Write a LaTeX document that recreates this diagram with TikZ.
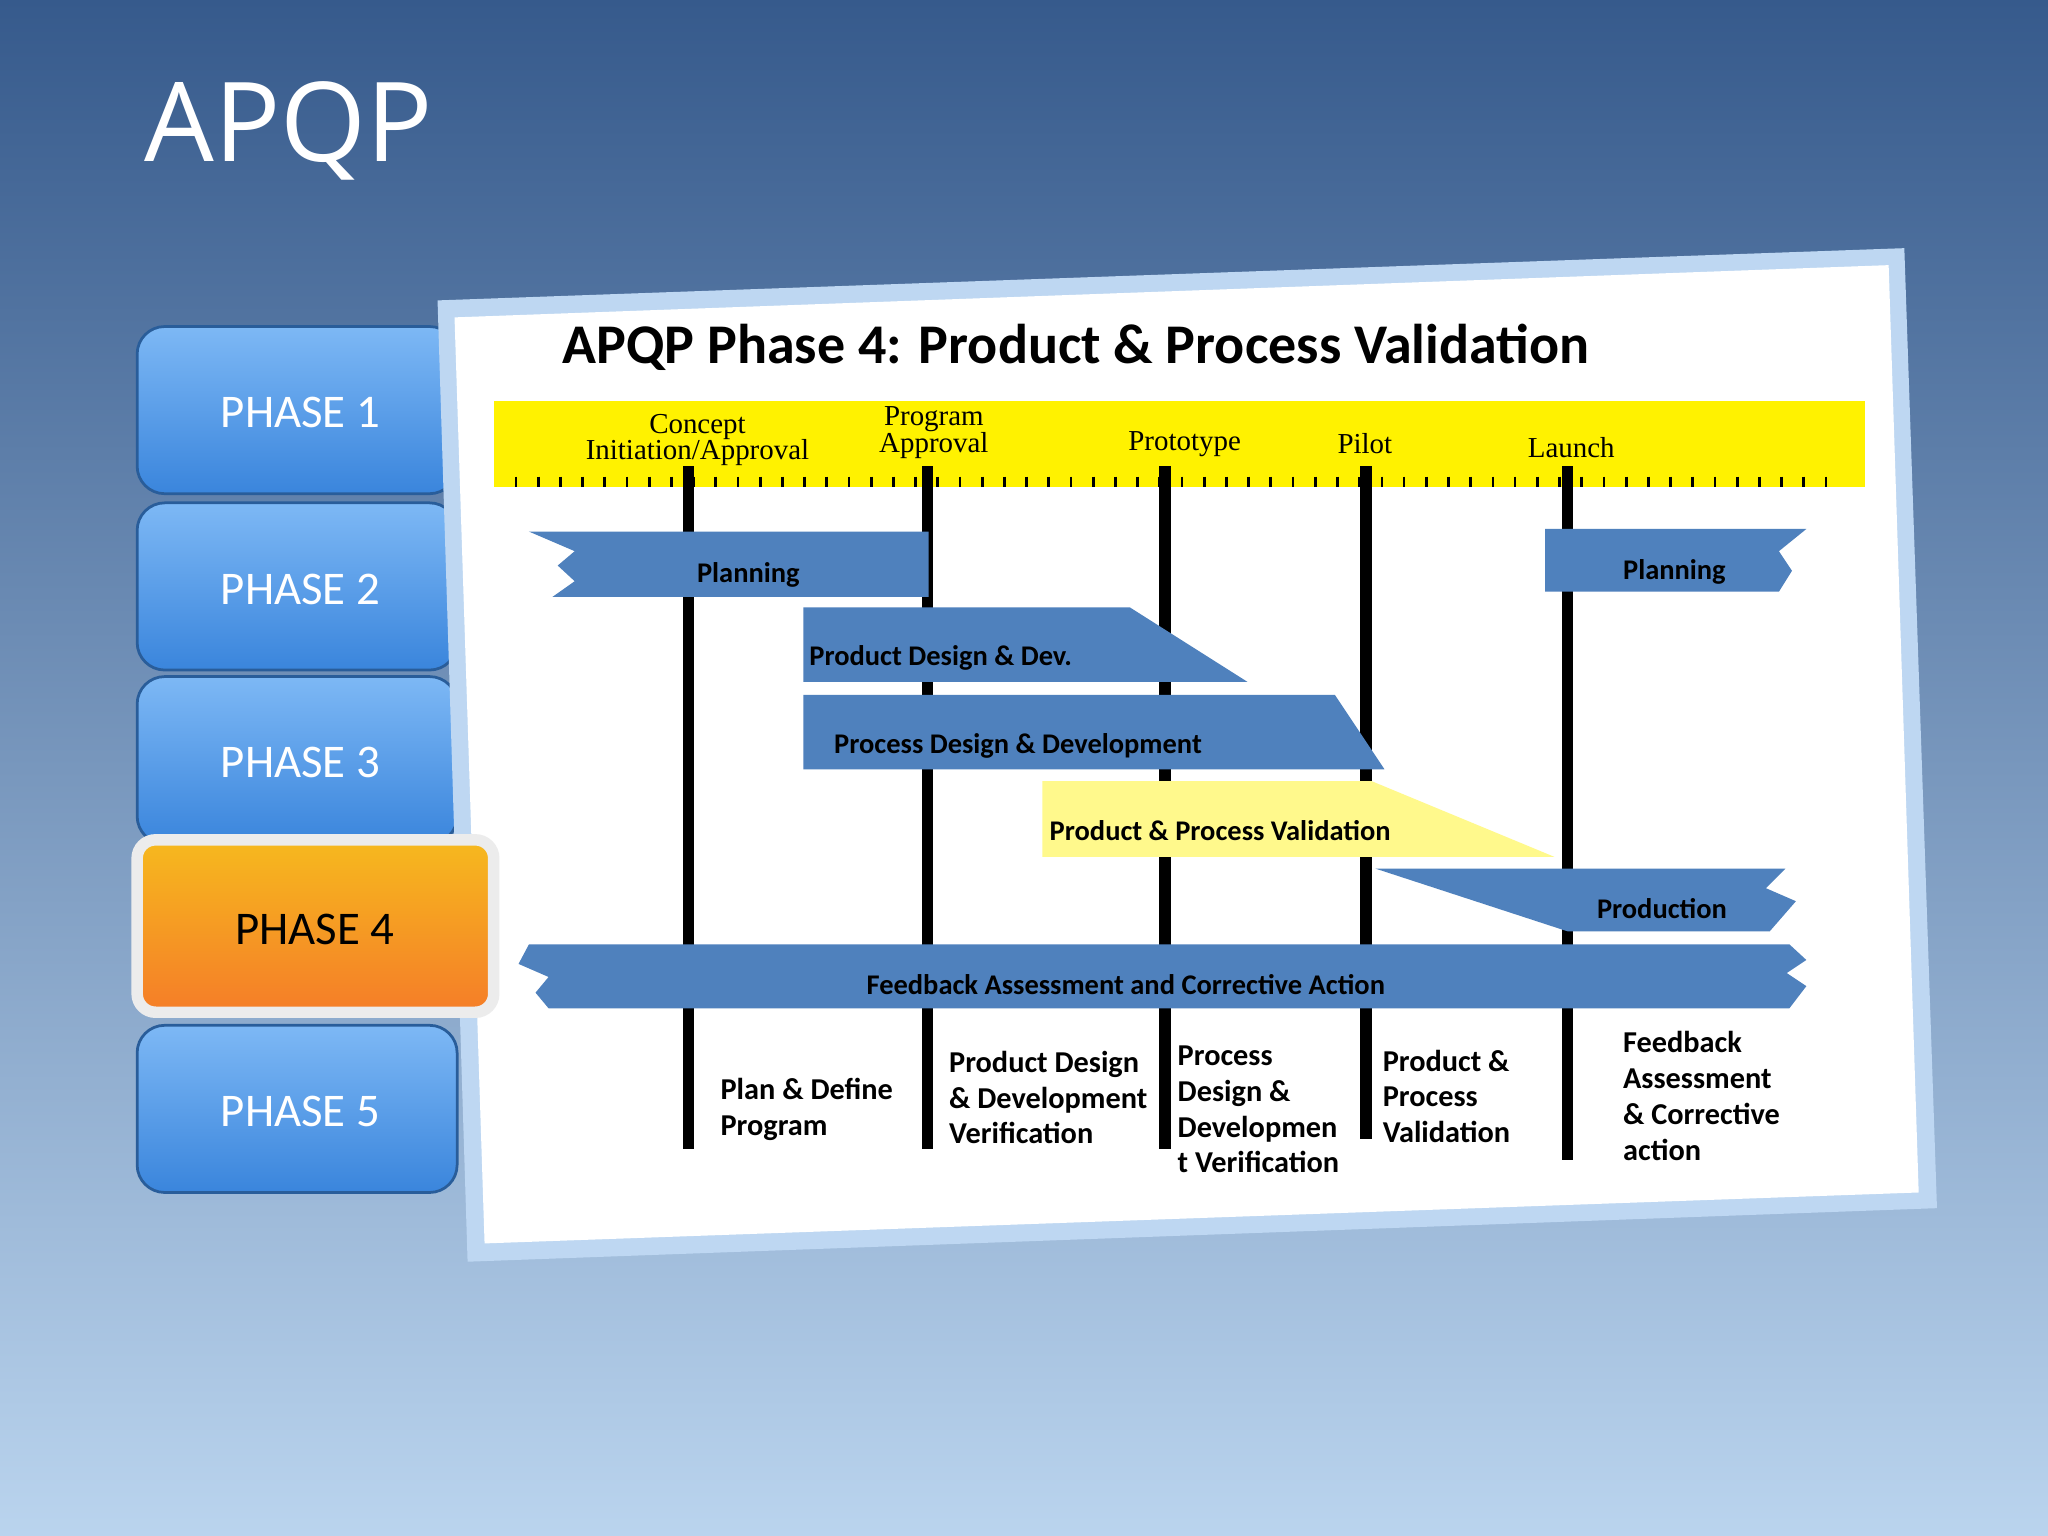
\documentclass[tikz,border=0pt]{standalone}
\usepackage{fontspec}
\setmainfont{Carlito}
\newfontfamily\serifn{Liberation Serif}
\newfontfamily\titlef{Open Sans}
\definecolor{bandblue}{HTML}{4F81BD}
\definecolor{tabtop}{HTML}{7DB8F5}
\definecolor{tabbot}{HTML}{3A85DC}
\definecolor{bgtop}{RGB}{54,90,140}
\definecolor{bgbot}{RGB}{186,212,238}
\definecolor{frame}{RGB}{190,215,242}
\definecolor{otop}{RGB}{246,185,30}
\definecolor{obot}{RGB}{245,125,40}
\begin{document}
\begin{tikzpicture}[x=0.01cm,y=-0.01cm,
 band/.style={fill=bandblue,draw=none},
 lbl/.style={font=\bfseries\fontsize{6.2}{6.2}\selectfont,anchor=west,inner sep=0},
 ms/.style={font=\serifn\fontsize{6.3}{5.8}\selectfont,align=center,inner sep=0},
 bot/.style={font=\bfseries\fontsize{6.6}{7.8}\selectfont,align=left,anchor=north west,inner sep=0},
 phase/.style={rounded corners=6pt,top color=tabtop,bottom color=tabbot,draw=tabbot!70!black,line width=0.6pt},
 ptext/.style={font=\fontsize{10.2}{10.2}\selectfont,text=white}]
\shade[top color=bgtop,bottom color=bgbot] (0,0) rectangle (1568,1176);
\useasboundingbox (0,0) rectangle (1568,1176);
\node[font=\titlef\fontsize{24}{24}\selectfont,text=white,anchor=west,inner sep=0] (title) at (110,100) {APQP};
% tabs
\foreach \y/\n in {250/1,385/2,518/3,785/5}{
 \draw[phase] (105,\y) rectangle (350,\y+128);
 \node[ptext] (p\n) at (230,\y+66) {PHASE \n};}
% board
\fill[frame] (335,230)--(1458,190)--(1483,925)--(358,966)--cycle;
\fill[white] (348,243)--(1446,203)--(1469,913)--(371,952)--cycle;
\draw[rounded corners=4pt,top color=otop,bottom color=obot,draw=white!85!gray,line width=2.5pt] (105,643) rectangle (378,775);
\node[ptext,text=black] (p4) at (241,712) {PHASE 4};
\node[font=\bfseries\fontsize{12.2}{12.2}\selectfont,anchor=west,inner sep=0] (head) at (430,266) {APQP Phase 4: Product \& Process Validation};
% ruler
\fill[yellow] (378,307) rectangle (1428,373);
\foreach \x in {395,412,...,1400}{\draw[line width=0.6pt] (\x,365)--(\x,373);}
\node[ms] (m1) at (534,337) {Concept\\Initiation/Approval};
\node[ms] (m2) at (715,331) {Program\\Approval};
\node[ms] (m3) at (907,340) {Prototype};
\node[ms] (m4) at (1045,340) {Pilot};
\node[ms] (m5) at (1203,343) {Launch};
\foreach \x/\e/\i in {527/880/1,710/880/2,892/880/3,1046/872/4,1200/888/5}{
 \coordinate (t\i) at (\x,357); \coordinate (b\i) at (\x,\e);
 \draw[line width=2.5pt] (t\i)--(b\i);}
% bands
\fill[band] (405,407)--(711,407)--(711,457)--(423,457)--(440,445)--(427,433)--(440,422)--cycle;
\node[lbl] (l1) at (533,440) {Planning};
\fill[band] (1183,405)--(1383,405)--(1362,422)--(1372,437)--(1362,453)--(1183,453)--cycle;
\node[lbl] (l2) at (1242,438) {Planning};
\fill[band] (615,465)--(865,465)--(955,522)--(615,522)--cycle;
\node[lbl] (l3) at (619,504) {Product Design \& Dev.};
\fill[band] (615,532)--(1022,532)--(1060,589)--(615,589)--cycle;
\node[lbl] (l4) at (638,571) {Process Design \& Development};
\fill[yellow!45] (798,598)--(1050,598)--(1190,656)--(798,656)--cycle;
\node[lbl] (l5) at (803,636) {Product \& Process Validation};
\fill[band] (1053,665)--(1367,665)--(1352,680)--(1375,690)--(1355,713)--(1200,713)--cycle;
\node[lbl] (l6) at (1222,696) {Production};
\fill[band] (405,723)--(1370,723)--(1383,735)--(1368,745)--(1383,755)--(1370,772)--(420,772)--(410,760)--(420,748)--(397,738)--cycle;
\node[lbl,anchor=center] (l7) at (862,754) {Feedback Assessment and Corrective Action};
% bottom texts
\node[bot] (d1) at (551,825) {Plan \& Define\\Program};
\node[bot] (d2) at (726,804) {Product Design\\\& Development\\Verification};
\node[bot] (d3) at (901,800) {Process\\Design \&\\Developmen\\t Verification};
\node[bot] (d4) at (1058,803) {Product \&\\Process\\Validation};
\node[bot] (d5) at (1242,789) {Feedback\\Assessment\\\& Corrective\\action};
\end{tikzpicture}
\end{document}
